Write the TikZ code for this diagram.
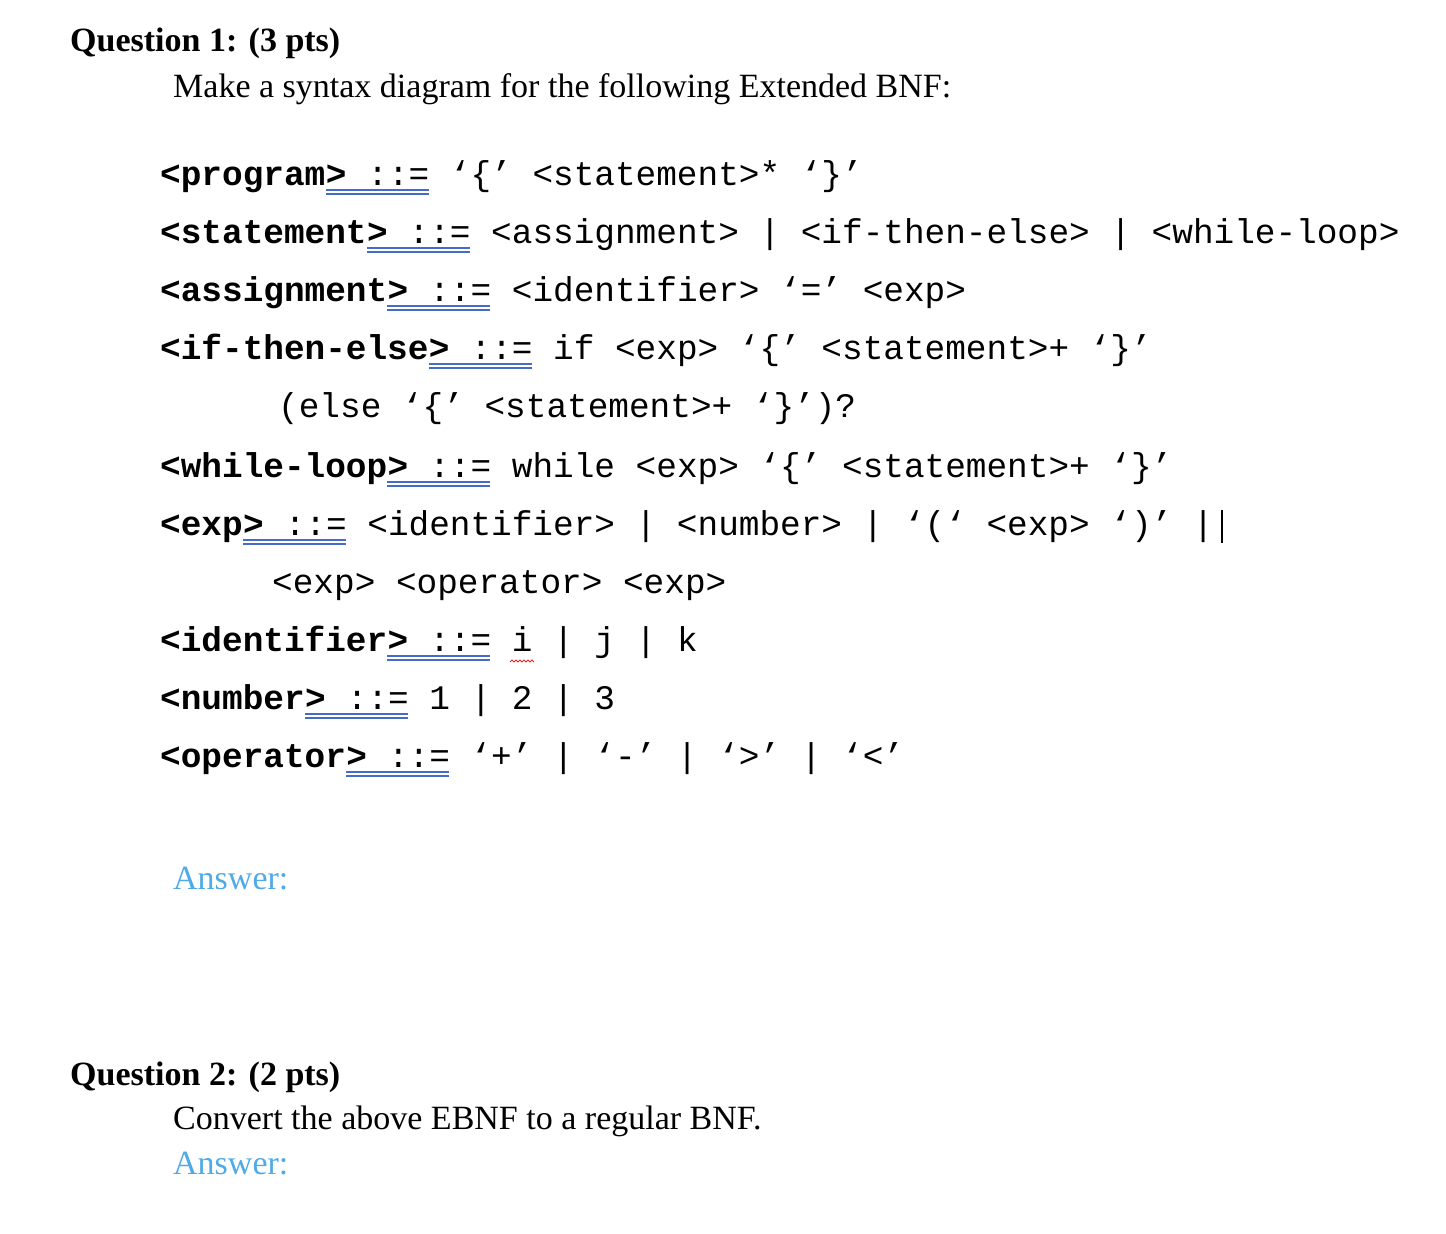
\documentclass[tikz,border=0pt]{standalone}
\usepackage{fontspec}
\setmainfont{Liberation Serif}
\setmonofont{Liberation Mono}
\definecolor{ansblue}{RGB}{80,170,230}
\definecolor{ulblue}{RGB}{70,105,205}
\definecolor{spellred}{RGB}{220,40,40}
\begin{document}
\begin{tikzpicture}
		[
			x=1pt, y=-1pt,
			txt/.style={anchor=base west, inner sep=0pt, font=\fontsize{34}{40}\selectfont},
			head/.style={txt, font=\fontsize{34}{40}\selectfont\bfseries},
			ans/.style={txt, text=ansblue},
			code/.style={anchor=base west, inner sep=0pt, font=\fontsize{34.4}{40}\selectfont\ttfamily},
			codeb/.style={code, font=\fontsize{34.4}{40}\selectfont\ttfamily\bfseries},
			uline/.style={ulblue, line width=1.2pt},
		]
		\useasboundingbox (0,0) rectangle (1446,1234);

		% Headings
		\node[head] (q1) at (70,51) {Question 1: (3 pts)};
		\node[txt] (q1t) at (173,97) {Make a syntax diagram for the following Extended BNF:};

		% Rules
		\foreach \id/\nm/\yy/\rest in
		{
			prog/{<program}/185/{::= ‘\{’ <statement>* ‘\}’},
			stmt/{<statement}/243/{::= <assignment> | <if-then-else> | <while-loop>},
			asgn/{<assignment}/301/{::= <identifier> ‘=’ <exp>},
			ite/{<if-then-else}/359/{::= if <exp> ‘\{’ <statement>+ ‘\}’},
			wl/{<while-loop}/477/{::= while <exp> ‘\{’ <statement>+ ‘\}’},
			exp/{<exp}/535/{::= <identifier> | <number> | ‘(‘ <exp> ‘)’ |},
			ident/{<identifier}/651/{::= i | j | k},
			num/{<number}/709/{::= 1 | 2 | 3},
			op/{<operator}/767/{::= ‘+’ | ‘-’ | ‘>’ | ‘<’}
		}
		{
			\node[codeb] (\id) at (160,\yy) {\nm};
			\node[codeb] (\id-g) at (\id.base east) {>};
			\node[code] (\id-r) at ([xshift=20.6pt]\id-g.base east) {\rest};
			\draw[uline] ([yshift=-5pt]\id-g.base west) -- ++(103,0);
			\draw[uline] ([yshift=-9pt]\id-g.base west) -- ++(103,0);
		}

		% Continuation lines
		\node[code] (itec) at (278,417) {(else ‘\{’ <statement>+ ‘\}’)?};
		\node[code] (expc) at (272,593) {<exp> <operator> <exp>};

		% Cursor and spelling mark
		\draw[line width=1.2pt] ([xshift=8pt, yshift=-8pt]exp-r.base east) -- ++(0,-33);
		\draw[spellred, line width=0.8pt] (510,662) \foreach \k in {1,...,6} { -- ++(2,-2) -- ++(2,2) };

		% Answers
		\node[ans] (a1) at (173,889) {Answer:};
		\node[head] (q2) at (70,1085) {Question 2: (2 pts)};
		\node[txt] (q2t) at (173,1129) {Convert the above EBNF to a regular BNF.};
		\node[ans] (a2) at (173,1174) {Answer:};
\end{tikzpicture}
\end{document}
